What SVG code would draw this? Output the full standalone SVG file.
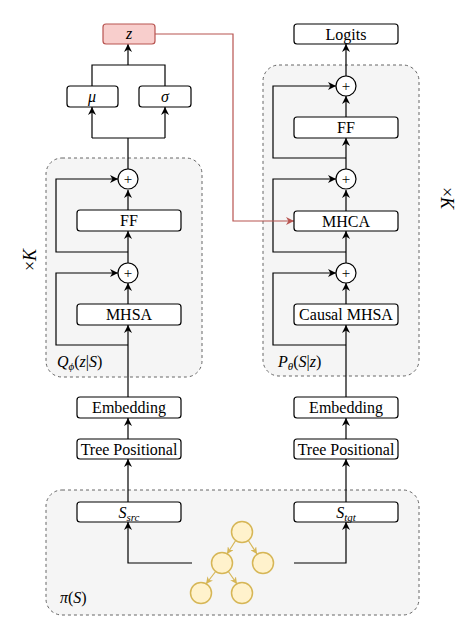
<svg xmlns="http://www.w3.org/2000/svg" width="468" height="631" viewBox="0 0 468 631" font-family="'Liberation Serif', 'DejaVu Serif', serif">
<style>
.box{fill:#fff;stroke:#000;stroke-width:1.2}
.grp{fill:#f5f5f5;stroke:#666;stroke-width:1;stroke-dasharray:3,3}
text{font-family:"Liberation Serif","DejaVu Serif",serif}
.t{font-size:16px;fill:#000;text-anchor:middle}
.i{font-style:italic}
.ln{fill:none;stroke:#000;stroke-width:1.2}
.lnr{fill:none;stroke:#b85450;stroke-width:1.2}
.lny{fill:none;stroke:#d6b656;stroke-width:1.2}
.plus{fill:#fff;stroke:#000;stroke-width:1.2}
.pt{font-size:15px}
.tree{fill:#fff2cc;stroke:#d6b656;stroke-width:1.5}
</style>
<defs>
<marker id="a" viewBox="0 0 10 10" refX="10" refY="5" markerWidth="8" markerHeight="8" markerUnits="userSpaceOnUse" orient="auto"><path d="M0,0 L10,5 L0,10 L3,5 z" fill="#000"/></marker>
<marker id="ar" viewBox="0 0 10 10" refX="10" refY="5" markerWidth="8" markerHeight="8" markerUnits="userSpaceOnUse" orient="auto"><path d="M0,0 L10,5 L0,10 L3,5 z" fill="#b85450"/></marker>
<marker id="ay" viewBox="0 0 10 10" refX="10" refY="5" markerWidth="7" markerHeight="7" markerUnits="userSpaceOnUse" orient="auto"><path d="M0,0 L10,5 L0,10 L3,5 z" fill="#d6b656"/></marker>
</defs>

<g id="groups">
<rect id="Qbox" class="grp" x="46" y="158" width="156" height="219" rx="16"/>
<rect id="Pbox" class="grp" x="263" y="65" width="156" height="311" rx="16"/>
<rect id="pibox" class="grp" x="46" y="490" width="373" height="125" rx="16"/>
</g>

<g id="connectors">
<path class="ln" d="M128,65 L128,44" marker-end="url(#a)"/>
<path class="ln" d="M92,86 L92,65 L165,65 L165,86"/>
<path class="ln" d="M128,169 L128,138 M92,138 L165,138"/>
<path class="ln" d="M92,138 L92,107" marker-end="url(#a)"/>
<path class="ln" d="M165,138 L165,107" marker-end="url(#a)"/>
<path class="ln" d="M128,210 L128,190" marker-end="url(#a)"/>
<path class="ln" d="M128,263 L128,231" marker-end="url(#a)"/>
<path class="ln" d="M128,252 L56,252 L56,179 L118,179" marker-end="url(#a)"/>
<path class="ln" d="M128,304 L128,283" marker-end="url(#a)"/>
<path class="ln" d="M128,397 L128,325" marker-end="url(#a)"/>
<path class="ln" d="M128,345 L56,345 L56,273 L118,273" marker-end="url(#a)"/>
<path class="ln" d="M128,439 L128,418" marker-end="url(#a)"/>
<path class="ln" d="M128,502 L128,459" marker-end="url(#a)"/>
<path class="ln" d="M192,563 L128,563 L128,522" marker-end="url(#a)"/>
<path class="ln" d="M346,76 L346,44" marker-end="url(#a)"/>
<path class="ln" d="M346,117 L346,96" marker-end="url(#a)"/>
<path class="ln" d="M346,169 L346,138" marker-end="url(#a)"/>
<path class="ln" d="M346,158 L273,158 L273,86 L336,86" marker-end="url(#a)"/>
<path class="ln" d="M346,211 L346,190" marker-end="url(#a)"/>
<path class="ln" d="M346,263 L346,231" marker-end="url(#a)"/>
<path class="ln" d="M346,252 L273,252 L273,179 L336,179" marker-end="url(#a)"/>
<path class="ln" d="M346,304 L346,283" marker-end="url(#a)"/>
<path class="ln" d="M346,397 L346,325" marker-end="url(#a)"/>
<path class="ln" d="M346,345 L273,345 L273,273 L336,273" marker-end="url(#a)"/>
<path class="ln" d="M346,439 L346,418" marker-end="url(#a)"/>
<path class="ln" d="M346,502 L346,459" marker-end="url(#a)"/>
<path class="ln" d="M294,563 L346,563 L346,522" marker-end="url(#a)"/>
<path class="lnr" d="M155,34 L233,34 L233,221 L294,221" marker-end="url(#ar)"/>
<path class="lny" d="M236,540 L227,554" marker-end="url(#ay)"/>
<path class="lny" d="M248,540 L257,554" marker-end="url(#ay)"/>
<path class="lny" d="M216,571 L206,584" marker-end="url(#ay)"/>
<path class="lny" d="M228,571 L237,584" marker-end="url(#ay)"/>
</g>

<g id="z"><rect x="103" y="24" width="52" height="20" rx="3" fill="#f8cecc" stroke="#b85450" stroke-width="1.2"/><text class="t i" x="129" y="39">z</text></g>
<g id="mu"><rect class="box" x="67" y="86" width="51" height="21" rx="3"/><text class="t i" x="92" y="101.5">μ</text></g>
<g id="sigma"><rect class="box" x="139" y="86" width="52" height="21" rx="3"/><text class="t i" x="165" y="101.5">σ</text></g>
<g id="plusQ1"><circle class="plus" cx="128" cy="179" r="10"/><text class="t pt" x="128" y="184">+</text></g>
<g id="ffQ"><rect class="box" x="77" y="210" width="104" height="21" rx="3"/><text class="t" x="129" y="226">FF</text></g>
<g id="plusQ2"><circle class="plus" cx="128" cy="273" r="10"/><text class="t pt" x="128" y="278">+</text></g>
<g id="mhsa"><rect class="box" x="77" y="304" width="104" height="21" rx="3"/><text class="t" x="129" y="320">MHSA</text></g>
<g id="embQ"><rect class="box" x="77" y="397" width="104" height="21" rx="3"/><text class="t" x="129" y="413">Embedding</text></g>
<g id="treeQ"><rect class="box" x="77" y="439" width="104" height="20" rx="3"/><text class="t" x="129" y="454.5">Tree Positional</text></g>
<g id="ssrc"><rect class="box" x="77" y="502" width="104" height="20" rx="3"/><text class="t" x="129" y="517.5"><tspan class="i">S</tspan><tspan class="i" font-size="11" dy="3">src</tspan></text></g>

<g id="logits"><rect class="box" x="294" y="24" width="104" height="20" rx="3"/><text class="t" x="346" y="39.5">Logits</text></g>
<g id="plusP1"><circle class="plus" cx="346" cy="86" r="10"/><text class="t pt" x="346" y="91">+</text></g>
<g id="ffP"><rect class="box" x="294" y="117" width="104" height="21" rx="3"/><text class="t" x="346" y="133">FF</text></g>
<g id="plusP2"><circle class="plus" cx="346" cy="179" r="10"/><text class="t pt" x="346" y="184">+</text></g>
<g id="mhca"><rect class="box" x="294" y="211" width="104" height="20" rx="3"/><text class="t" x="346" y="226.5">MHCA</text></g>
<g id="plusP3"><circle class="plus" cx="346" cy="273" r="10"/><text class="t pt" x="346" y="278">+</text></g>
<g id="cmhsa"><rect class="box" x="294" y="304" width="104" height="21" rx="3"/><text class="t" x="346" y="320">Causal MHSA</text></g>
<g id="embP"><rect class="box" x="294" y="397" width="104" height="21" rx="3"/><text class="t" x="346" y="413">Embedding</text></g>
<g id="treeP"><rect class="box" x="294" y="439" width="104" height="20" rx="3"/><text class="t" x="346" y="454.5">Tree Positional</text></g>
<g id="stgt"><rect class="box" x="294" y="502" width="104" height="20" rx="3"/><text class="t" x="346" y="517.5"><tspan class="i">S</tspan><tspan class="i" font-size="11" dy="3">tgt</tspan></text></g>

<g id="tree">
<circle class="tree" cx="242" cy="532" r="10.5"/>
<circle class="tree" cx="222" cy="563" r="10.5"/>
<circle class="tree" cx="263" cy="563" r="10.5"/>
<circle class="tree" cx="201" cy="593" r="10.5"/>
<circle class="tree" cx="242" cy="593" r="10.5"/>
</g>

<g id="labels">
<text class="t" x="57" y="367" style="text-anchor:start"><tspan class="i">Q</tspan><tspan class="i" font-size="11" dy="3">ϕ</tspan><tspan dy="-3">(</tspan><tspan class="i">z</tspan>|<tspan class="i">S</tspan>)</text>
<text class="t" x="278" y="367" style="text-anchor:start"><tspan class="i">P</tspan><tspan class="i" font-size="11" dy="3">θ</tspan><tspan dy="-3">(</tspan><tspan class="i">S</tspan>|<tspan class="i">z</tspan>)</text>
<text class="t" x="60" y="603" style="text-anchor:start"><tspan class="i">π</tspan>(<tspan class="i">S</tspan>)</text>
<text class="t" style="font-size:18px" transform="translate(36,260) rotate(-90)">×<tspan class="i">K</tspan></text>
<text class="t" style="font-size:18px" transform="translate(441,198) rotate(90)">×<tspan class="i">K</tspan></text>
</g>
</svg>
